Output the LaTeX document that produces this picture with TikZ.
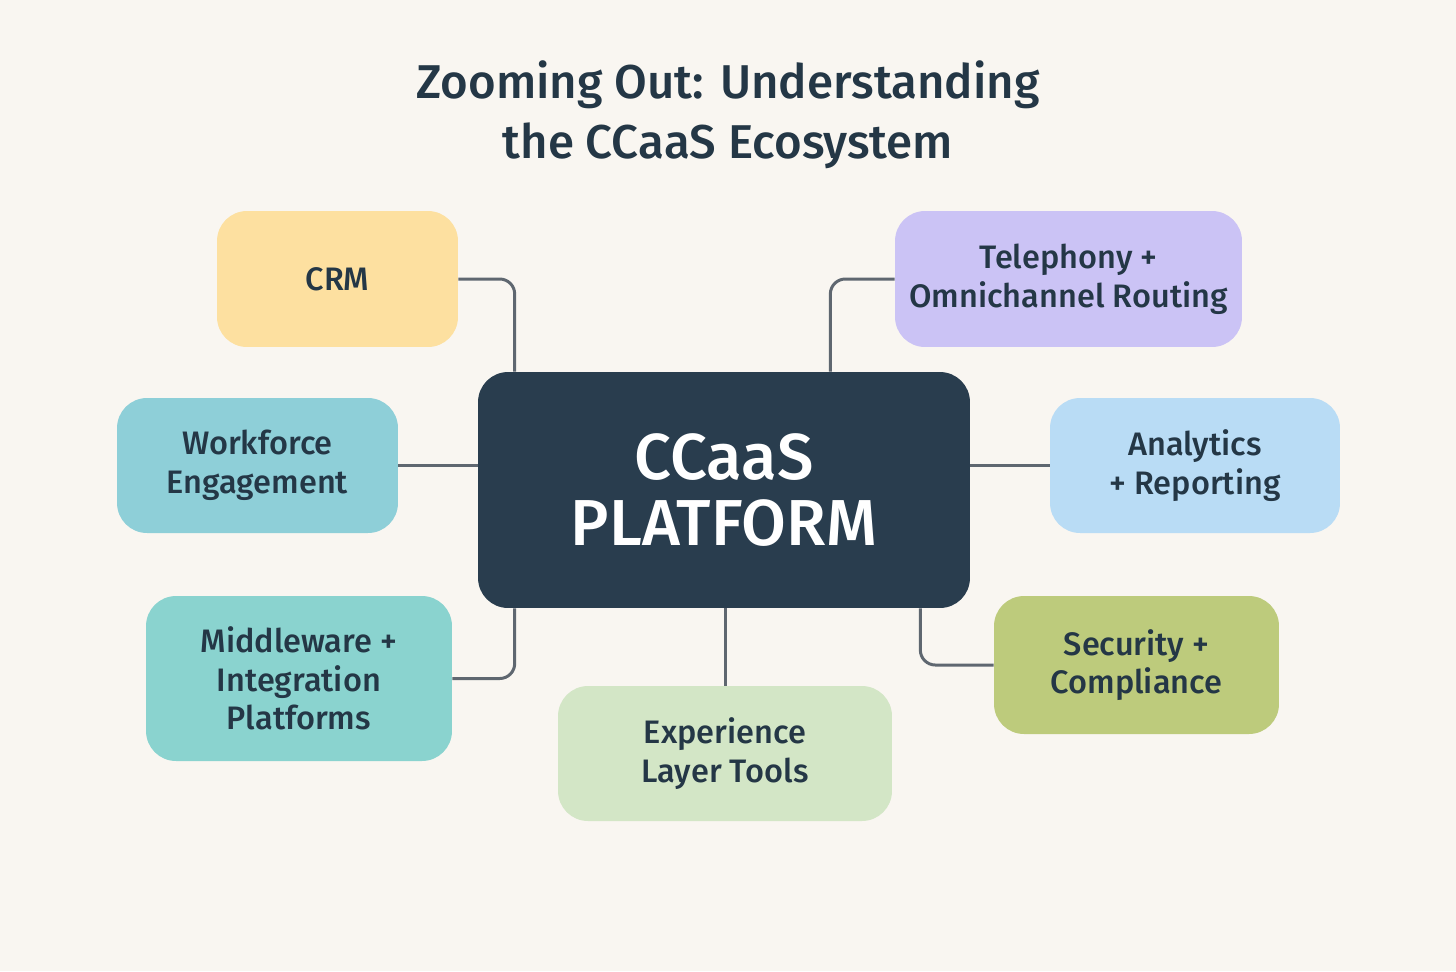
\documentclass[tikz,border=0pt]{standalone}
\usepackage{fontspec}
\setmainfont{Fira Sans}
\newfontfamily\med{Fira Sans Medium}
\definecolor{bg}{HTML}{F9F6F1}
\definecolor{ink}{HTML}{243746}
\definecolor{dark}{HTML}{293D4E}
\definecolor{conn}{HTML}{5F6770}
\definecolor{crmc}{HTML}{FDE0A0}
\definecolor{telc}{HTML}{CBC3F5}
\definecolor{wfc}{HTML}{8ECFD8}
\definecolor{anc}{HTML}{B9DCF5}
\definecolor{midc}{HTML}{8AD3CF}
\definecolor{expc}{HTML}{D3E6C6}
\definecolor{secc}{HTML}{BDCB7C}
\begin{document}
\begin{tikzpicture}[x=0.02cm,y=-0.02cm,
  box/.style={rectangle,rounded corners=0.6cm,draw=none,text=ink,align=center,font=\med\fontsize{18.5}{22}\selectfont,inner sep=0pt},
  link/.style={draw=conn,line width=1.7pt,rounded corners=0.3cm}]
\fill[bg] (0,0) rectangle (1456,971);
\useasboundingbox (0,0) rectangle (1456,971);
\node[text=ink,align=center,font=\med\fontsize{27}{34}\selectfont] (title) at (728,115) {Zooming Out: Understanding\\the CCaaS Ecosystem};
\node[box,fill=dark,text=white,minimum width=9.84cm,minimum height=4.72cm,font=\med\fontsize{37}{38}\selectfont] (center) at (724,490) {CCaaS\\PLATFORM};
\node[box,fill=crmc,minimum width=4.82cm,minimum height=2.72cm] (crm) at (337.5,279) {CRM};
\node[box,fill=telc,minimum width=6.94cm,minimum height=2.72cm] (tel) at (1068.5,279) {Telephony +\\Omnichannel Routing};
\node[box,fill=wfc,minimum width=5.62cm,minimum height=2.7cm] (wf) at (257.5,465.5) {Workforce\\Engagement};
\node[box,fill=anc,minimum width=5.8cm,minimum height=2.7cm] (an) at (1195,465.5) {Analytics\\+ Reporting};
\node[box,fill=midc,minimum width=6.12cm,minimum height=3.3cm] (mid) at (299,678.5) {Middleware +\\Integration\\Platforms};
\node[box,fill=expc,minimum width=6.68cm,minimum height=2.7cm] (exp) at (725,753.5) {Experience\\Layer Tools};
\node[box,fill=secc,minimum width=5.7cm,minimum height=2.76cm] (sec) at (1136.5,665) {Security +\\Compliance};
\draw[link] (crm.east) -| ([xshift=0.74cm]center.north west);
\draw[link] (tel.west) -| ([xshift=-2.8cm]center.north east);
\draw[link] (wf.east) -- (center.west |- wf.east);
\draw[link] (an.west) -- (center.east |- an.west);
\draw[link] (mid.east) -| ([xshift=0.74cm]center.south west);
\draw[link] (exp.north) -- (center.south -| exp.north);
\draw[link] (sec.west) -| ([xshift=-1cm]center.south east);
\end{tikzpicture}
\end{document}
